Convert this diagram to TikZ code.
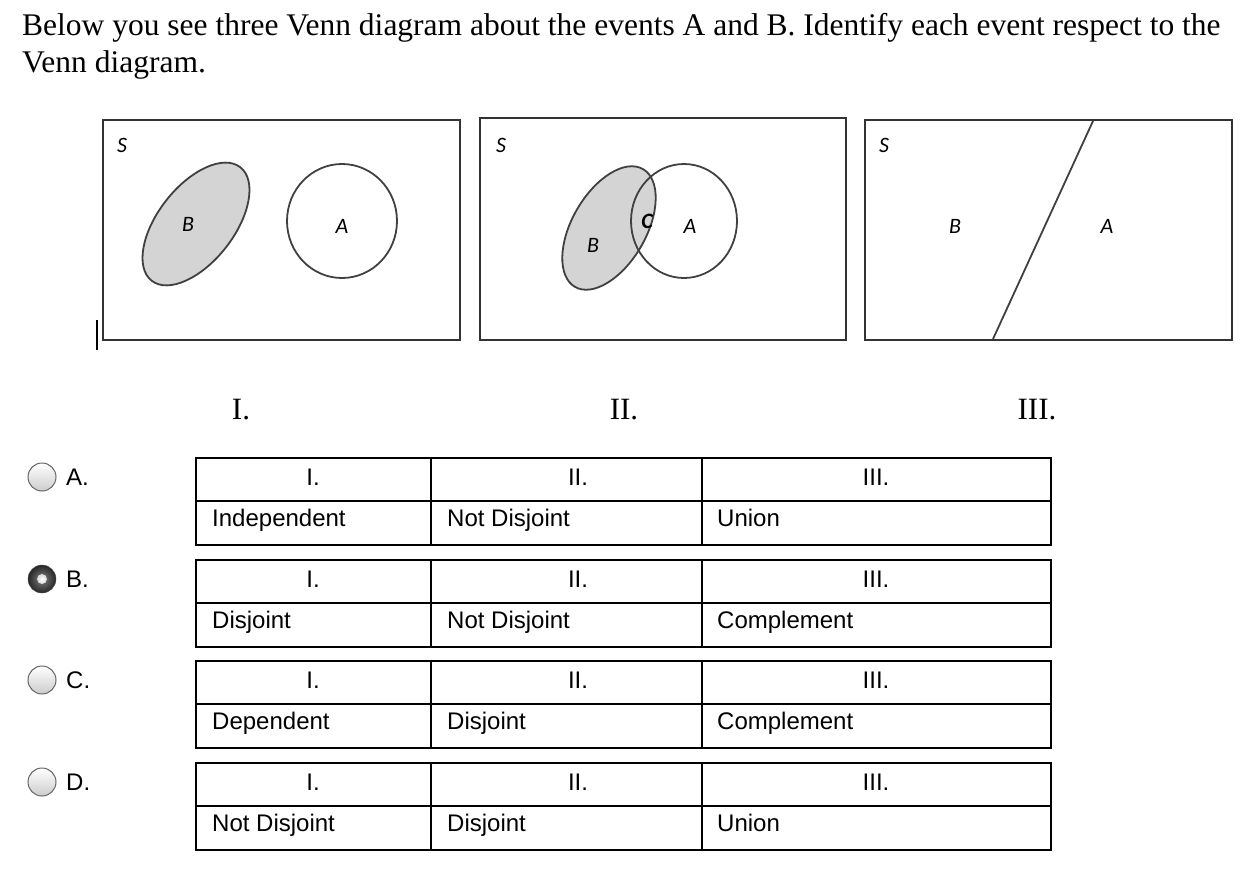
\documentclass[tikz,border=0pt]{standalone}
\usepackage{fontspec}
\setmainfont{Liberation Serif}
\newfontfamily\tsans{Liberation Sans}
\newfontfamily\vsans{Carlito}
\begin{document}
\begin{tikzpicture}[x=1pt,y=-1pt,
  venn/.style={draw=black!75,line width=1.8pt},
  vbox/.style={draw=black!80,line width=2pt},
  vlab/.style={font=\vsans\itshape\fontsize{22}{22}\selectfont},
  tcell/.style={font=\tsans\fontsize{24}{24}\selectfont},
  romanl/.style={font=\fontsize{31}{31}\selectfont}]
\useasboundingbox (0,0) rectangle (1241,889);
\node[anchor=base west,font=\fontsize{31.5}{31.5}\selectfont,inner sep=0] (t1) at (22,35) {Below you see three Venn diagram about the events A and B. Identify each event respect to the};
\node[anchor=base west,font=\fontsize{31.5}{31.5}\selectfont,inner sep=0] (t2) at (22,72) {Venn diagram.};
% box I
\draw[vbox] (103,120) rectangle (460,340);
\draw[line width=1.4pt] (97,320) -- (97,350);
\node[vlab] (s1) at (122,145) {S};
\draw[venn,fill=black!17] (196,224) ellipse[x radius=72,y radius=38,rotate=52];
\draw[venn] (342,221) ellipse[x radius=55,y radius=57];
\node[vlab] (b1) at (188,224) {B};
\node[vlab] (a1) at (342,226) {A};
% box II
\draw[vbox] (480,118) rectangle (846,340);
\node[vlab] (s2) at (501,145) {S};
\draw[venn,fill=black!17] (609,228) ellipse[x radius=68,y radius=37,rotate=60];
\draw[venn] (684,221) ellipse[x radius=53,y radius=57];
\node[vlab,font=\vsans\bfseries\itshape\fontsize{22}{22}\selectfont] (c2) at (647,221) {C};
\node[vlab] (a2) at (690,226) {A};
\node[vlab] (b2) at (593,245) {B};
% box III
\draw[vbox] (865,120) rectangle (1232,340);
\node[vlab] (s3) at (884,145) {S};
\coordinate (l1) at (1093,121);
\coordinate (l2) at (993,339);
\draw[venn] (l1) -- (l2);
\node[vlab] (b3) at (955,226) {B};
\node[vlab] (a3) at (1107,226) {A};
% roman labels
\node[romanl] (r1) at (241,410) {I.};
\node[romanl] (r2) at (624,410) {II.};
\node[romanl] (r3) at (1037,410) {III.};
% tables
\foreach \y/\L/\a/\b/\c/\sel in {458/A/Independent/Not Disjoint/Union/0,560/B/Disjoint/Not Disjoint/Complement/1,661/C/Dependent/Disjoint/Complement/0,763/D/Not Disjoint/Disjoint/Union/0}{
  \draw[line width=1.5pt] (196,\y) rectangle (1051,\y+87);
  \draw[line width=1.5pt] (196,\y+43) -- (1051,\y+43);
  \draw[line width=1.5pt] (431,\y) -- (431,\y+87) (702,\y) -- (702,\y+87);
  \node[tcell,anchor=base] at (313,\y+27) {I.};
  \node[tcell,anchor=base] at (578,\y+27) {II.};
  \node[tcell,anchor=base] at (876,\y+27) {III.};
  \node[tcell,anchor=base west,inner sep=0] at (212,\y+68) {\a};
  \node[tcell,anchor=base west,inner sep=0] at (447,\y+68) {\b};
  \node[tcell,anchor=base west,inner sep=0] at (717,\y+68) {\c};
  \node[tcell,anchor=base west,inner sep=0] at (66,\y+27) {\L.};
  \ifnum\sel=1
    \shade[inner color=black!50,outer color=black!85,draw=black!70] (42,\y+19) circle (14);
    \shade[inner color=white,outer color=black!15] (42,\y+19) circle (5);
  \else
    \shade[top color=white,bottom color=black!20,draw=black!60,line width=1pt] (42,\y+19) circle (14);
  \fi
}
\end{tikzpicture}
\end{document}
